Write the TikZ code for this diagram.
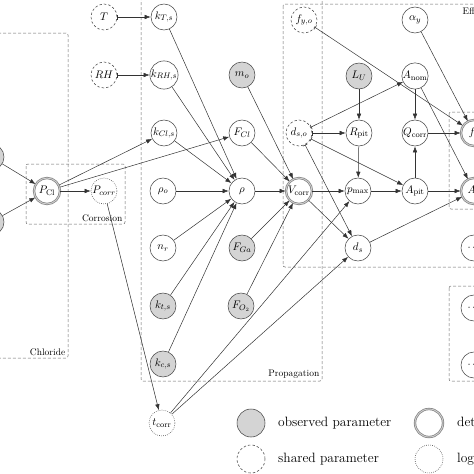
\documentclass[tikz,border=0pt]{standalone}
\usetikzlibrary{arrows.meta}
\begin{document}
\begin{tikzpicture}[x=1pt,y=-1pt,
  nd/.style={circle,draw=black!72,fill=white,line width=0.55pt,minimum size=26pt,inner sep=0pt,font=\fontsize{11}{13}\selectfont},
  obs/.style={nd,fill=black!17},
  shr/.style={nd,dash pattern=on 2.5pt off 2pt},
  lgc/.style={nd,dash pattern=on 0.7pt off 1.3pt},
  det/.style={nd,draw=black!50,double=black!18,double distance=0.9pt,line width=0.7pt},
  grp/.style={draw=black!60,dash pattern=on 3pt off 2pt,rounded corners=2pt,line width=0.5pt},
  lbl/.style={font=\fontsize{9.5}{11}\selectfont,inner sep=1.5pt},
  leg/.style={font=\fontsize{13.5}{16}\selectfont,anchor=west,inner sep=0pt},
  ar/.style={draw=black!80,line width=0.5pt,-{Latex[length=6pt,width=4.5pt]}},
  sarr/.style={draw=black!80,line width=0.5pt,{Bar[width=5pt]}-{Latex[length=6pt,width=4.5pt]}},
]
\useasboundingbox (0,0) rectangle (474,474);
% groups
\draw[grp] (-20,33) rectangle (68,358);
\node[lbl,anchor=south east] (lchl) at (67,357) {Chloride};
\draw[grp] (26,164) rectangle (125,224);
\node[lbl,anchor=south east] (lcor) at (124,223) {Corrosion};
\draw[grp] (141,-5) rectangle (322,381);
\node[lbl,anchor=south east] (lprop) at (321,380) {Propagation};
\draw[grp] (283,4) rectangle (495,267);
\node[lbl,anchor=west] (leff) at (461,11) {Effect};
\draw[grp] (449,112) rectangle (495,209);
\draw[grp] (449,286) rectangle (495,381);
% nodes
\node[shr] (T) at (104,17) {$T$};
\node[shr] (RH) at (104,75) {$RH$};
\node[obs] (L1) at (-9,157) {};
\node[obs] (L2) at (-9,222) {};
\node[det] (Pcl) at (47,191) {$P_{\mathrm{Cl}}$};
\node[lgc] (Pcorr) at (104,191) {$P_{corr}$};
\node[nd] (kT) at (164,17) {$k_{T,s}$};
\node[nd] (kRH) at (164,75) {$k_{RH,s}$};
\node[nd] (kCl) at (164,133) {$k_{Cl,s}$};
\node[nd] (rho0) at (163,191) {$\rho_o$};
\node[nd] (nr) at (163,248) {$n_r$};
\node[obs] (kt) at (163,306) {$k_{t,s}$};
\node[obs] (kc) at (163,364) {$k_{c,s}$};
\node[lgc] (tcorr) at (162,423) {$t_{\mathrm{corr}}$};
\node[obs] (mo) at (242,75) {$m_o$};
\node[nd] (FCl) at (242,133) {$F_{Cl}$};
\node[nd] (rho) at (242,191) {$\rho$};
\node[obs] (FGa) at (242,248) {$F_{Ga}$};
\node[obs] (FO2) at (241,306) {$F_{O_2}$};
\node[det] (Vcorr) at (299,191) {$V_{\mathrm{corr}}$};
\node[shr] (fyo) at (304,20) {$f_{y,o}$};
\node[shr] (dso) at (299,133) {$d_{s,o}$};
\node[obs] (LU) at (359,76) {$L_U$};
\node[nd] (Rpit) at (359,133) {$R_{\mathrm{pit}}$};
\node[nd] (pmax) at (358,191) {$p_{\max}$};
\node[nd] (ds) at (358,248) {$d_s$};
\node[nd] (ay) at (415,20) {$\alpha_y$};
\node[nd] (Anom) at (415,76) {$A_{\mathrm{nom}}$};
\node[nd] (Qcorr) at (415,133) {$Q_{\mathrm{corr}}$};
\node[nd] (Apit) at (415,191) {$A_{\mathrm{pit}}$};
\node[det] (fy) at (474,133) {$f_y$};
\node[det] (As) at (474,191) {$A_s$};
\node[nd] (e1) at (474,248) {$\cdots$};
\node[nd] (e2) at (474,308) {$\cdots$};
\node[nd] (e3) at (474,365) {$\cdots$};
% edges
\draw[ar] (L1) -- (Pcl);
\draw[ar] (L2) -- (Pcl);
\draw[sarr] (T) -- (kT);
\draw[sarr] (RH) -- (kRH);
\draw[ar] (Pcl) -- (kCl);
\draw[ar] (Pcl) -- (FCl);
\draw[ar] (Pcl) -- (Pcorr);
\draw[ar] (Pcorr) -- (tcorr);
\draw[ar] (kT) -- (rho);
\draw[ar] (kRH) -- (rho);
\draw[ar] (kCl) -- (rho);
\draw[ar] (rho0) -- (rho);
\draw[ar] (nr) -- (rho);
\draw[ar] (kt) -- (rho);
\draw[ar] (kc) -- (rho);
\draw[ar] (rho) -- (Vcorr);
\draw[ar] (mo) -- (Vcorr);
\draw[ar] (FCl) -- (Vcorr);
\draw[ar] (FGa) -- (Vcorr);
\draw[ar] (FO2) -- (Vcorr);
\draw[ar] (Vcorr) -- (pmax);
\draw[ar] (Vcorr) -- (ds);
\draw[ar] (tcorr) -- (pmax);
\draw[ar] (tcorr) -- (ds);
\draw[sarr] (dso) -- (Rpit);
\draw[sarr] (dso) -- (Anom);
\draw[sarr] (dso) -- (Apit);
\draw[sarr] (dso) -- (ds);
\draw[sarr] (fyo) -- (fy);
\draw[ar] (LU) -- (Rpit);
\draw[ar] (Rpit) -- (pmax);
\draw[ar] (pmax) -- (Apit);
\draw[ar] (Apit) -- (Qcorr);
\draw[ar] (Anom) -- (Qcorr);
\draw[ar] (Qcorr) -- (fy);
\draw[ar] (Apit) -- (As);
\draw[ar] (ds) -- (As);
\draw[ar] (ay) -- (fy);
\draw[ar] (Anom) -- (As);
% legend
\node[obs,minimum size=28pt] (lg1) at (251,423) {};
\node[leg] (lt1) at (278,423) {observed parameter};
\node[det,minimum size=28pt] (lg2) at (429,423) {};
\node[leg] (lt2) at (457,423) {deterministic parameter};
\node[shr,minimum size=28pt] (lg3) at (251,459) {};
\node[leg] (lt3) at (278,459) {shared parameter};
\node[lgc,minimum size=28pt] (lg4) at (429,459) {};
\node[leg] (lt4) at (457,459) {logical parameter};
\end{tikzpicture}
\end{document}
